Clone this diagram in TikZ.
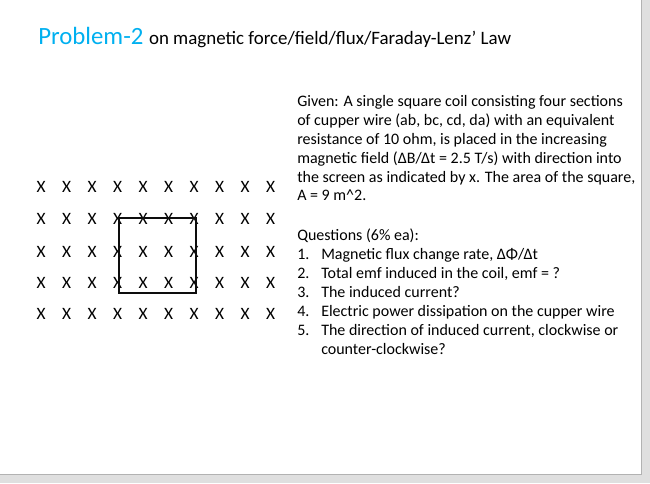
\documentclass[tikz,border=0pt]{standalone}
\usepackage{fontspec}
\setmainfont{Carlito}
\definecolor{ttl}{RGB}{0,176,240}
\begin{document}
\begin{tikzpicture}[x=0.75pt,y=-0.75pt,
  xm/.style={inner sep=0pt,font=\fontsize{13pt}{13pt}\selectfont},
  body/.style={anchor=base west,inner sep=0pt,font=\fontsize{12pt}{14pt}\selectfont}]
\useasboundingbox (0,0) rectangle (650,483);
\fill[gray!25] (0,0) rectangle (650,483);
\fill[white] (0,0) rectangle (641,474);
\draw[gray!60] (641,0) -- (641,474) -- (0,474);
\node[anchor=base west,inner sep=0pt] (t) at (38,44) {\fontsize{18.6pt}{20pt}\selectfont\textcolor{ttl}{Problem-2} \fontsize{14.2pt}{15pt}\selectfont on magnetic force/field/flux/Faraday-Lenz’ Law};
\foreach \r/\y in {1/187,2/219,3/252,4/283,5/314}{
  \foreach \c in {0,...,9}{
    \node[xm] (x\r\c) at ({41+25.5*\c},\y) {X};
  }}
\draw[line width=1.2pt,gray!10!black] (119,218) rectangle (196,293);
\node[body] (g1) at (297,106) {Given: A single square coil consisting four sections};
\node[body] (g2) at (297,125) {of cupper wire (ab, bc, cd, da) with an equivalent};
\node[body] (g3) at (297,144) {resistance of 10 ohm, is placed in the increasing};
\node[body] (g4) at (297,163) {magnetic field (ΔB/Δt = 2.5 T/s) with direction into};
\node[body] (g5) at (297,182) {the screen as indicated by x. The area of the square,};
\node[body] (g6) at (297,200) {A = 9 m\^{}2.};
\node[body] (q0) at (297,240) {Questions (6\% ea):};
\foreach \n/\y/\t in {1/259/{Magnetic flux change rate, ΔΦ/Δt},2/278/{Total emf induced in the coil, emf = ?},3/297/{The induced current?},4/316/{Electric power dissipation on the cupper wire},5/335/{The direction of induced current, clockwise or}}{
  \node[body] (n\n) at (297,\y) {\n.};
  \node[body] (q\n) at (321,\y) {\t};
}
\node[body] (q6) at (321,354) {counter-clockwise?};
\end{tikzpicture}
\end{document}
